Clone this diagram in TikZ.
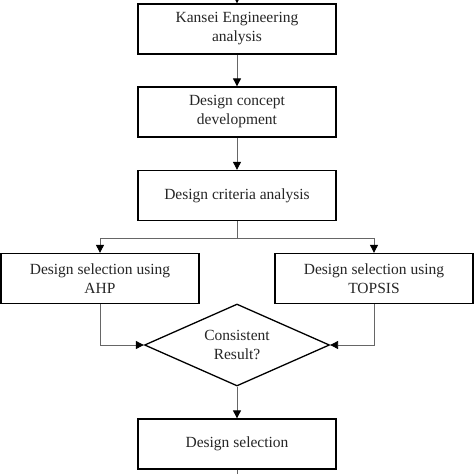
\documentclass[tikz,border=0pt]{standalone}
\usepackage{fontspec}
\setmainfont{Liberation Serif}
\usetikzlibrary{shapes.geometric,arrows.meta}
\begin{document}
\begin{tikzpicture}[x=1pt,y=-1pt,
  stepbox/.style={draw=black,line width=1.3pt,minimum width=198pt,minimum height=50pt,inner sep=0pt,align=center,text=black!85,font=\fontsize{15.5}{19}\selectfont},
  decision/.style={draw=black,line width=1.3pt,diamond,aspect=2.25,minimum width=185pt,minimum height=82pt,inner sep=0pt,align=center,text=black!85,font=\fontsize{15.5}{19}\selectfont},
  conn/.style={draw=black!60,line width=0.9pt},
  arr/.style={conn,-{Triangle[length=8pt,width=8pt,fill=black,color=black]}}]
\useasboundingbox[fill=white] (0,0) rectangle (474,474);
\node[stepbox] (ke) at (237,29) {Kansei Engineering\\analysis};
\node[stepbox] (dc) at (237,112) {Design concept\\development};
\node[stepbox] (cr) at (237,195.5) {Design criteria analysis};
\node[stepbox] (ahp) at (100,278.5) {Design selection using\\AHP};
\node[stepbox] (top) at (374,278.5) {Design selection using\\TOPSIS};
\node[decision] (cons) at (237,345) {Consistent\\Result?};
\node[stepbox] (sel) at (237,444) {Design selection};
\coordinate (in) at (237,-12);
\coordinate (out) at (237,490);
\coordinate (br) at (237,238);
\coordinate (brl) at (100,238);
\coordinate (brr) at (374,238);
\draw[arr] (in) -- (ke.north);
\draw[arr] (ke) -- (dc);
\draw[arr] (dc) -- (cr);
\draw[conn] (cr.south) -- (br);
\draw[conn] (brl) -- (brr);
\draw[arr] (brl) -- (ahp.north);
\draw[arr] (brr) -- (top.north);
\draw[arr] (ahp.south) |- (cons.west);
\draw[arr] (top.south) |- (cons.east);
\draw[arr] (cons.south) -- (sel.north);
\draw[conn] (sel.south) -- (out);
\end{tikzpicture}
\end{document}
